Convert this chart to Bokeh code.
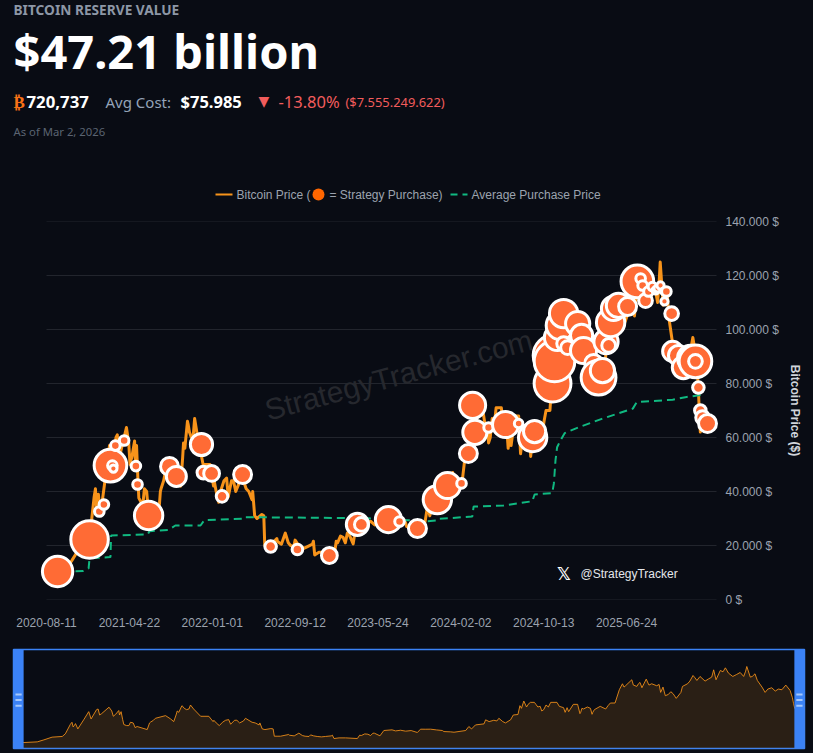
import numpy as np
from bokeh.plotting import figure
from bokeh.layouts import column
from bokeh.models import (ColumnDataSource, FixedTicker, Label, Range1d, BoxAnnotation)
from bokeh.embed import file_html
from bokeh.resources import INLINE

# ---------- data ----------
tick_days = [0, 254, 508, 762, 1016, 1270, 1524, 1778]
tick_dates = ["2020-08-11", "2021-04-22", "2022-01-01", "2022-09-12",
              "2023-05-24", "2024-02-02", "2024-10-13", "2025-06-24"]
y_ticks = [0, 20000, 40000, 60000, 80000, 100000, 120000, 140000]
y_tick_labels = ["0 $", "20.000 $", "40.000 $", "60.000 $", "80.000 $",
                 "100.000 $", "120.000 $", "140.000 $"]

price_day = [0, 27, 61, 78, 99, 125, 133, 150, 156, 165, 180, 193, 199, 213, 226, 245, 256, 270, 283, 296,
             307, 317, 343, 351, 364, 390, 403, 411, 424, 434, 444, 454, 467, 480, 501, 514, 528, 544, 557, 567,
             580, 595, 612, 632, 638, 666, 676, 685, 706, 732, 741, 758, 762, 779, 800, 818, 822, 852, 882, 888,
             909, 916, 922, 940, 950, 971, 980, 993, 1006, 1036, 1044, 1070, 1100, 1104, 1121, 1160, 1168, 1185, 1207, 1211,
             1232, 1245, 1262, 1275, 1282, 1294, 1299, 1309, 1316, 1326, 1336, 1345, 1351, 1360, 1372, 1378, 1394, 1411, 1424, 1436,
             1447, 1455, 1462, 1472, 1486, 1505, 1519, 1531, 1543, 1554, 1562, 1566, 1586, 1599, 1607, 1612, 1623, 1637, 1656, 1660,
             1666, 1672, 1686, 1700, 1712, 1716, 1729, 1743, 1753, 1761, 1774, 1791, 1796, 1813, 1826, 1834, 1845, 1864, 1873, 1881,
             1890, 1902, 1908, 1920, 1928, 1945, 1954, 1971, 1981, 1992, 1998, 2001, 2004, 2010, 2018, 2029,
             146, 153, 159, 217, 221, 252, 262, 272, 276, 280, 290, 300, 312, 349, 359, 417, 420, 432, 438, 450, 462,
             512, 520, 536, 552, 573, 590, 620, 630, 645, 660, 669, 708, 720, 748, 770, 790, 815, 835, 892, 901, 926,
             1020, 1056, 1085, 1130, 1175, 1220, 1240, 1255, 1303, 1320, 1340, 1355, 1366, 1400, 1415, 1420, 1453, 1458,
             1480, 1484, 1490, 1525, 1570, 1590, 1603, 1630, 1650, 1680, 1692, 1735, 1748, 1782, 1802, 1820, 1855, 1878, 1895, 1935, 1962]
price_usd = [10500, 10500, 11500, 14500, 18600, 19600, 23600, 41000, 36000, 31000, 44700, 57000, 46000, 60000, 54000, 63700, 50000, 58700, 37600, 36000,
             40000, 34600, 30000, 41000, 47000, 51000, 46000, 42000, 56000, 65000, 60000, 67000, 58000, 50000, 50000, 44000, 36000, 44000, 38000, 44000,
             40000, 47000, 41000, 40000, 31000, 31000, 20000, 20000, 22600, 24600, 21000, 19600, 22000, 19600, 19600, 21600, 16500, 17500, 16500, 21600,
             23000, 21000, 24600, 20600, 28600, 29600, 28000, 29000, 27600, 25600, 30600, 30600, 28600, 27000, 26600, 28600, 34600, 37000, 38600, 44700,
             44000, 47000, 40000, 44700, 52000, 52700, 66000, 73000, 64000, 71000, 71000, 64000, 65000, 60000, 64000, 71000, 71000, 63000, 57000, 68000,
             68000, 56000, 61000, 64000, 56000, 65000, 61000, 70000, 70000, 90000, 99000, 94000, 105000, 95000, 101000, 93000, 106000, 99000, 98000, 86000,
             94000, 81000, 87000, 77000, 86000, 95000, 99000, 111500, 104000, 110000, 103000, 109000, 120000, 119000, 123000, 115000, 110000, 116000, 110000, 125000,
             109000, 114000, 104000, 94000, 86000, 93000, 88000, 90000, 97000, 89000, 78000, 69000, 62000, 67000, 68000, 65000,
             38000, 34000, 39000, 61000, 52000, 58000, 53000, 52000, 57000, 45000, 36000, 41000, 33000, 40000, 44000, 52000, 58000, 66000, 62000, 61000, 61000,
             42000, 40000, 41000, 45000, 44000, 43000, 40000, 37000, 30000, 31500, 20000, 21500, 20500, 20000, 20500, 19000, 20500, 17500, 21000, 23500, 24500,
             28500, 30500, 29500, 26000, 31000, 42000, 43000, 42000, 62000, 68000, 68000, 58000, 67000, 65000, 56000, 63000, 54000, 62000,
             62000, 53000, 60000, 66000, 96000, 97000, 99000, 97000, 96000, 83000, 84000, 103000, 108000, 106000, 105000, 117000, 113000, 118000, 110000, 91000, 91000]

avg_day = [89, 113, 129, 132, 196, 198, 310, 316, 374, 395, 472, 484, 601, 604, 984, 1131, 1167, 1202, 1205, 1305, 1309,
           1401, 1489, 1496, 1550, 1555, 1560, 1565, 1575, 1588, 1631, 1702, 1797, 1809, 1919, 1962, 2015]
avg_usd = [10500, 10600, 11500, 15300, 15700, 23700, 24100, 25300, 25800, 27400, 27400, 29400, 29900, 30500, 30100, 29200, 29000,
           29300, 29900, 30700, 34400, 34800, 36400, 38900, 39400, 42900, 51500, 56400, 58900, 61600, 63800, 66900, 70700, 73100, 74000, 75000, 75900]

purchase_day = [34, 132, 162, 176, 196, 202, 205, 211, 238, 274, 279, 313, 377, 398, 475, 481, 506, 538, 601, 687, 769, 867,
                953, 965, 1048, 1082, 1137, 1198, 1229, 1272, 1293, 1306, 1313, 1355, 1407, 1447, 1490, 1496, 1551, 1554, 1557,
                1566, 1575, 1585, 1585, 1597, 1628, 1640, 1646, 1677, 1692, 1704, 1715, 1723, 1729, 1738, 1753, 1781, 1811,
                1821, 1827, 1836, 1845, 1857, 1867, 1873, 1882, 1894, 1900, 1894, 1916, 1919, 1937, 1952, 1974, 1989, 1989,
                1998, 2004, 2011, 2026]
purchase_price = [10370, 22220, 32600, 35200, 49600, 49600, 48500, 57000, 58900, 49400, 42600, 31100, 49300, 45600, 57400, 47000, 46700, 38200, 46300, 19600, 18500, 16300,
                  27800, 27800, 29600, 28900, 26300, 37000, 42200, 43000, 54100, 71900, 61900, 63700, 64800, 65200, 60000, 62200, 80000, 90400, 88200,
                  97000, 101500, 105900, 94800, 93300, 102200, 97800, 92200, 87400, 82200, 84800, 95500, 94100, 102600, 107800, 108900, 108500, 117800,
                  118900, 116300, 110700, 114100, 115900, 114500, 115200, 116300, 114100, 114100, 110400, 105900, 91900, 90400, 85900, 89300, 88200, 88200,
                  78500, 70000, 67400, 65200]
purchase_btc = [21000, 31000, 3000, 3000, 24000, 3000, 2000, 3000, 3000, 3000, 3000, 18600, 8300, 10000, 12000, 4700, 6700, 4000, 8300, 4000, 3500, 6700,
                12000, 5300, 16000, 3000, 8300, 18600, 16000, 3000, 8300, 16000, 14000, 3000, 16000, 2500, 18600, 12000, 30000, 36000, 36000,
                16000, 18600, 18600, 5300, 5300, 14000, 12000, 16000, 8300, 27000, 14000, 14000, 5300, 18600, 14000, 14000, 8300, 24000,
                3000, 3000, 5300, 3000, 2500, 2000, 2000, 2000, 2000, 3000, 2000, 5300, 10000, 10000, 12000, 16000, 24000, 5300,
                4000, 4000, 5300, 8300]

BG = "#090c14"
GRID = "#22252d"
MUTED = "#9ca3af"
ORANGE = "#f7931a"
GREEN = "#10b981"
BLUE = "#3b82f6"
RED = "#f25c5c"
LAST_DAY = 2029
CSS_BG = {"background-color": BG}

order = np.argsort(price_day)
price_x = np.array(price_day)[order]
price_y = np.array(price_usd)[order]

# ---------- header ----------
h = figure(width=813, height=210, x_range=Range1d(0, 813), y_range=Range1d(210, 0),
           output_backend="svg", toolbar_location=None, min_border=0,
           background_fill_color=None, border_fill_color=None, outline_line_color=None,
           frame_align=False, styles=CSS_BG)
h.axis.visible = False
h.grid.visible = False


def txt(x, y, text, size, color, font="Open Sans", style="normal"):
    h.add_layout(Label(x=x, y=y, text=text, text_font=font, text_font_size=f"{size}px",
                       text_color=color, text_font_style=style, text_baseline="middle"))


txt(13, 8.5, "BITCOIN RESERVE VALUE", 13.7, "#8d97a6", "Noto Sans", "bold")
txt(13, 50, "$47.21 billion", 47, "#ffffff", "Noto Sans", "bold")
txt(13, 101, "₿", 17, "#f97316", "DejaVu Sans", "bold")
txt(26, 101, "720,737", 16.8, "#ffffff", "Noto Sans", "bold")
txt(105, 101, "Avg Cost:", 15, "#94a3b8", "Noto Sans")
txt(180, 101, "$75.985", 16.5, "#ffffff", "Noto Sans", "bold")
txt(258, 100, "▼", 14, RED, "DejaVu Sans")
txt(278, 101, "-13.80%", 16.5, RED, "Noto Sans")
txt(345, 101, "($7.555.249.622)", 12.9, RED, "Noto Sans")
txt(13, 131, "As of Mar 2, 2026", 11.3, "#5b6472", "Noto Sans")

# legend keys
h.line([215, 232], [194, 194], line_color=ORANGE, line_width=2)
h.line([450, 467], [194, 194], line_color=GREEN, line_width=2, line_dash="7 5")
h.scatter([318], [194], size=12, fill_color="#ff6600", line_color=None)
txt(236, 194, "Bitcoin Price (", 12, MUTED, "Liberation Sans")
txt(329, 194, "= Strategy Purchase)", 12, MUTED, "Liberation Sans")
txt(471, 194, "Average Purchase Price", 12, MUTED, "Liberation Sans")

# ---------- main chart ----------
# the frame runs a little past the first and last day, so that bubbles are not clipped at the edges
PX_PER_DAY = 662 / LAST_DAY
p = figure(width=813, height=430,
           x_range=Range1d(-16 / PX_PER_DAY, LAST_DAY + 17 / PX_PER_DAY), y_range=Range1d(0, 140000),
           output_backend="svg", toolbar_location=None, y_axis_location="right",
           min_border_left=30, min_border_right=88, min_border_top=11, min_border_bottom=41,
           background_fill_color=None, border_fill_color=None, outline_line_color=None,
           frame_align=False, styles=CSS_BG)
p.grid.visible = False
# grid lines with their outer tick stubs
p.segment([0] * len(y_ticks), y_ticks, [LAST_DAY + 8 / PX_PER_DAY] * len(y_ticks), y_ticks,
          line_color=GRID, line_width=1, level="underlay")

p.xaxis.ticker = FixedTicker(ticks=tick_days)
p.xaxis.major_label_overrides = dict(zip(tick_days, tick_dates))
p.xaxis.axis_line_color = None
p.xaxis.major_tick_line_color = None
p.xaxis.minor_tick_line_color = None
p.xaxis.major_label_text_color = MUTED
p.xaxis.major_label_text_font = "Liberation Sans"
p.xaxis.major_label_text_font_size = "12px"
p.xaxis.major_label_standoff = 12

p.yaxis.ticker = FixedTicker(ticks=y_ticks)
p.yaxis.major_label_overrides = dict(zip(y_ticks, y_tick_labels))
p.yaxis.axis_line_color = None
p.yaxis.major_tick_line_color = None
p.yaxis.minor_tick_line_color = None
p.yaxis.major_tick_out = 0
p.yaxis.major_tick_in = 0
p.yaxis.major_label_text_color = MUTED
p.yaxis.major_label_text_font = "Liberation Sans"
p.yaxis.major_label_text_font_size = "12px"
p.yaxis.major_label_standoff = 0
p.yaxis.axis_label = "Bitcoin Price ($)"
p.yaxis.axis_label_text_color = "#d1d5db"
p.yaxis.axis_label_text_font = "Liberation Sans"
p.yaxis.axis_label_text_font_size = "12px"
p.yaxis.axis_label_text_font_style = "bold"
p.yaxis.axis_label_standoff = 6

# watermark
p.add_layout(Label(x=671, y=70000, text="StrategyTracker.com", angle=15, angle_units="deg",
                   text_font="Liberation Sans", text_font_size="30px", text_color="#26282e",
                   text_baseline="middle", level="underlay"))

p.line(price_x, price_y, line_color=ORANGE, line_width=3, line_join="round")
p.line(avg_day, avg_usd, line_color=GREEN, line_width=2, line_dash="8 5")

btc = np.array(purchase_btc, dtype=float)
bubble = ColumnDataSource(dict(x=purchase_day, y=purchase_price, s=2 * 0.115 * np.sqrt(btc) - 3))
p.scatter("x", "y", size="s", source=bubble, fill_color="#ff6b35", line_color="#ffffff", line_width=3)

p.add_layout(Label(x=1565, y=9300, text="𝕏", text_font="DejaVu Sans", text_font_size="17px",
                   text_font_style="bold", text_color="#ffffff", text_baseline="middle"))
p.add_layout(Label(x=1637, y=9300, text="@StrategyTracker", text_font="Liberation Sans", text_font_size="12px",
                   text_color="#e5e7eb", text_baseline="middle"))

# ---------- navigator ----------
n = figure(width=813, height=113, x_range=Range1d(0, LAST_DAY), y_range=Range1d(1500, 150600),
           output_backend="svg", toolbar_location=None,
           min_border_left=13, min_border_right=9, min_border_top=9, min_border_bottom=5,
           background_fill_color=None, border_fill_color=None,
           outline_line_color=BLUE, outline_line_width=1.5, frame_align=False, styles=CSS_BG)
n.axis.visible = False
n.grid.visible = False
n.varea(price_x, [1500] * len(price_x), price_y, fill_color=ORANGE, fill_alpha=0.14)
n.line(price_x, price_y, line_color=ORANGE, line_width=1, line_alpha=0.85)
for left, right in [(0, 26), (2003, LAST_DAY)]:
    n.add_layout(BoxAnnotation(left=left, right=right, fill_color=BLUE, fill_alpha=1, line_color=None))
    mid = (left + right) / 2
    for yc in (66000, 74500, 83000):
        n.add_layout(BoxAnnotation(left=mid - 8, right=mid + 8, bottom=yc - 1500, top=yc + 1500,
                                   fill_color="#a5c8fb", fill_alpha=1, line_color=None))

page = column(h, p, n, spacing=0)
page.styles = {"position": "fixed", "left": "0px", "top": "0px", "background-color": BG}
open("out.html", "w").write(file_html(page, INLINE))
